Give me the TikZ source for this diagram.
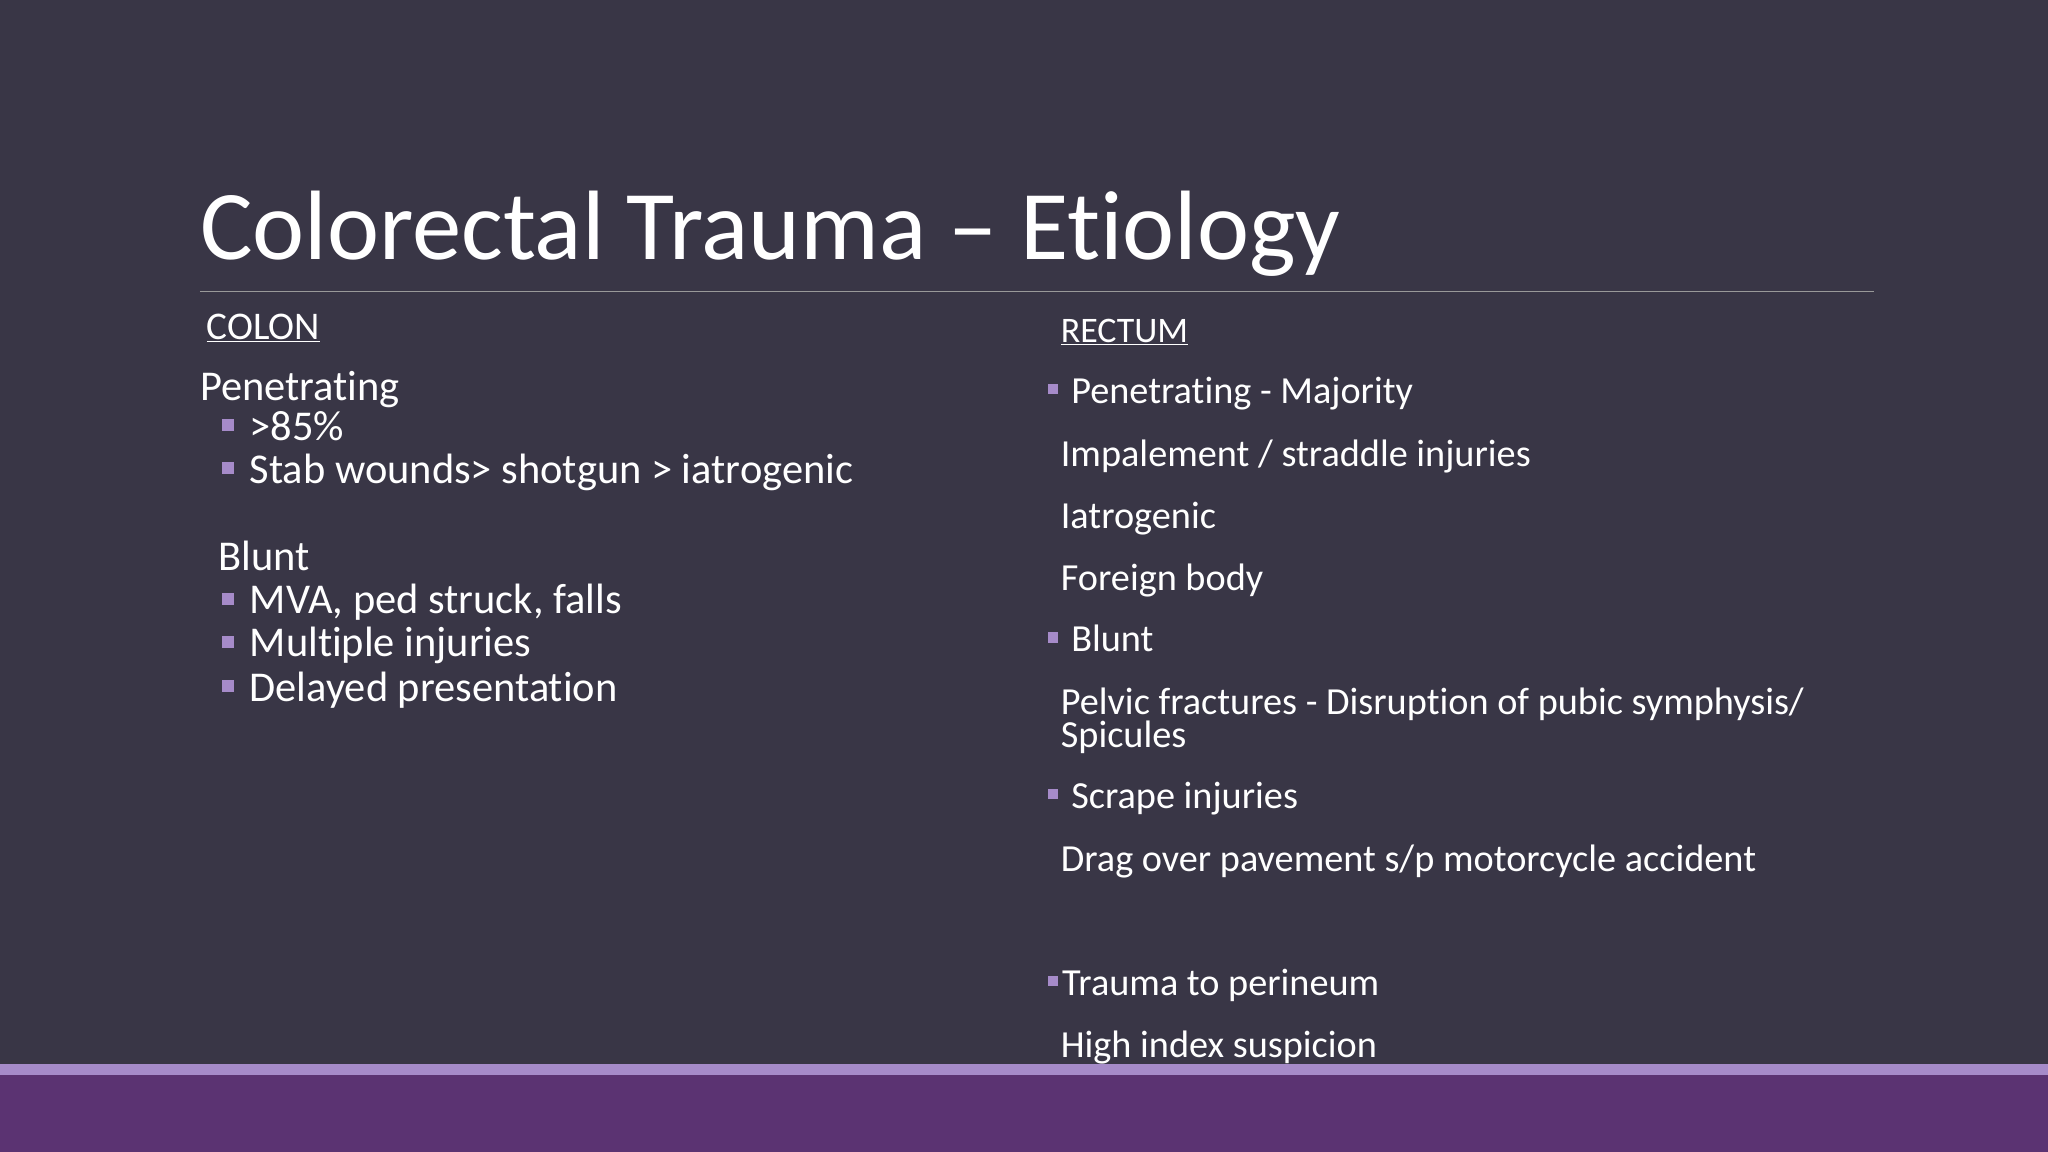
\documentclass[tikz,border=0pt]{standalone}
\usepackage{fontspec}
\setmainfont{Carlito}[RawFeature=-liga]
\definecolor{bg}{HTML}{393646}
\definecolor{lil}{HTML}{A68BC9}
\definecolor{bar}{HTML}{5B3372}
\begin{document}
\begin{tikzpicture}[x=1pt,y=-1pt,
  txt/.style={anchor=base west,inner sep=0pt,text=white,font=\fontsize{32.5}{34}\selectfont},
  rtxt/.style={anchor=base west,inner sep=0pt,text=white,font=\fontsize{29.3}{30}\selectfont},
  sq/.style={fill=lil,draw=none}]
\useasboundingbox (0,0) rectangle (1568,882);
\fill[bg] (0,0) rectangle (1568,882);
\fill[lil] (0,815) rectangle (1568,823);
\fill[bar] (0,823) rectangle (1568,882);
\node[txt,font=\fontsize{75.5}{76}\selectfont] (title) at (153,199) {Colorectal Trauma – Etiology};
\draw[gray!80,line width=1pt] (153,223) -- (1435,223);
% left
\node[txt,font=\fontsize{30}{30}\selectfont] (colon) at (158,260) {\underline{COLON}};
\node[txt] (pen) at (153,307) {Penetrating};
\node[txt] (l1) at (191,337) {>85\%};
\node[txt] (l2) at (191,370) {Stab wounds> shotgun > iatrogenic};
\node[txt] (blunt) at (167,437) {Blunt};
\node[txt] (l3) at (191,470) {MVA, ped struck, falls};
\node[txt] (l4) at (191,503) {Multiple injuries};
\node[txt] (l5) at (191,537) {Delayed presentation};
\foreach \y in {337,370,470,503,537} \fill[sq] (170,\y-16) rectangle +(9,9);
% right
\node[rtxt,font=\fontsize{27.5}{28}\selectfont] (rect) at (812,262) {\underline{RECTUM}};
\node[rtxt] (r1) at (820,309) {Penetrating - Majority};
\node[rtxt] (r2) at (812,357) {Impalement / straddle injuries};
\node[rtxt] (r3) at (812,405) {Iatrogenic};
\node[rtxt] (r4) at (812,452) {Foreign body};
\node[rtxt] (r5) at (820,499) {Blunt};
\node[rtxt] (r6) at (812,547) {Pelvic fractures - Disruption of pubic symphysis/};
\node[rtxt] (r6b) at (812,572) {Spicules};
\node[rtxt] (r7) at (820,619) {Scrape injuries};
\node[rtxt] (r8) at (812,667) {Drag over pavement s/p motorcycle accident};
\node[rtxt] (r9) at (813,762) {Trauma to perineum};
\node[rtxt] (r10) at (812,810) {High index suspicion};
\foreach \y in {309,499,619} \fill[sq] (802,\y-15) rectangle +(8,8);
\fill[sq] (802,747) rectangle +(8,8);
\end{tikzpicture}
\end{document}
